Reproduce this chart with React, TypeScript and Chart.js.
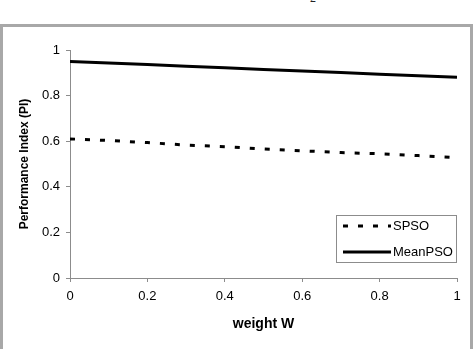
import React, { useEffect, useRef } from "react";
import { Chart, registerables } from "chart.js";

Chart.register(...registerables);

const weights = [0, 0.1, 0.2, 0.3, 0.4, 0.5, 0.6, 0.7, 0.8, 0.9, 1];
const spso = [0.61, 0.603, 0.594, 0.583, 0.576, 0.566, 0.558, 0.55, 0.545, 0.537, 0.528];
const meanPso = [0.95, 0.943, 0.936, 0.929, 0.922, 0.915, 0.908, 0.901, 0.894, 0.887, 0.88];
const seriesNames = ["SPSO", "MeanPSO"];
const xTickLabels = ["0", "0.2", "0.4", "0.6", "0.8", "1"];
const yTickLabels = ["0", "0.2", "0.4", "0.6", "0.8", "1"];
const xTitle = "weight W";
const yTitle = "Performance Index (PI)";

const FONT = "'Liberation Sans', Arial, Helvetica, sans-serif";

const legendPlugin = {
  id: "boxLegend",
  afterDraw(chart: any) {
    const { ctx, chartArea } = chart;
    const right = chartArea.right;
    const left = right - 121;
    const top = chartArea.top + 165;
    const h = 48;
    ctx.save();
    ctx.fillStyle = "#ffffff";
    ctx.fillRect(left, top, right - left, h);
    ctx.strokeStyle = "#8c8c8c";
    ctx.lineWidth = 1;
    ctx.strokeRect(left + 0.5, top + 0.5, right - left - 1, h - 1);
    const rows = [top + 11, top + 37];
    chart.data.datasets.forEach((ds: any, i: number) => {
      const y = rows[i];
      ctx.beginPath();
      ctx.strokeStyle = ds.borderColor;
      ctx.lineWidth = ds.borderWidth;
      ctx.setLineDash(ds.borderDash || []);
      ctx.moveTo(left + 7, y);
      ctx.lineTo(left + 55, y);
      ctx.stroke();
      ctx.setLineDash([]);
      ctx.fillStyle = "#000";
      ctx.font = `13px ${FONT}`;
      ctx.textBaseline = "middle";
      ctx.textAlign = "left";
      ctx.fillText(ds.label, left + 57, y);
    });
    ctx.restore();
  },
};

export default function App() {
  const ref = useRef<HTMLCanvasElement | null>(null);
  useEffect(() => {
    if (!ref.current) return;
    const chart = new Chart(ref.current, {
      type: "line",
      data: {
        datasets: [
          {
            label: seriesNames[0],
            data: weights.map((w, i) => ({ x: w, y: spso[i] })),
            borderColor: "#000",
            borderWidth: 3,
            borderDash: [5, 10],
            pointRadius: 0,
            tension: 0,
          },
          {
            label: seriesNames[1],
            data: weights.map((w, i) => ({ x: w, y: meanPso[i] })),
            borderColor: "#000",
            borderWidth: 3,
            pointRadius: 0,
            tension: 0,
          },
        ],
      },
      options: {
        animation: false,
        responsive: false,
        devicePixelRatio: 1,
        layout: { padding: { left: 0, top: 50, right: 17, bottom: 0 } },
        plugins: {
          legend: { display: false },
          tooltip: { enabled: false },
        },
        scales: {
          x: {
            type: "linear",
            min: 0,
            max: 1,
            afterFit: (s: any) => {
              s.height = 71;
            },
            ticks: {
              stepSize: 0.2,
              color: "#000",
              padding: 7,
              maxRotation: 0,
              font: { family: FONT, size: 13 },
              callback: (_v: any, i: number) => xTickLabels[i],
            },
            grid: {
              display: true,
              drawOnChartArea: false,
              drawTicks: true,
              tickLength: 4,
              color: "#8c8c8c",
              tickColor: "#8c8c8c",
            },
            border: { display: true, color: "#8c8c8c", width: 1 },
            title: {
              display: true,
              text: xTitle,
              color: "#000",
              font: { family: FONT, size: 14, weight: "bold" },
              padding: { top: 0, bottom: 16 },
            },
          },
          y: {
            type: "linear",
            min: 0,
            max: 1,
            afterFit: (s: any) => {
              s.width = 70;
            },
            ticks: {
              stepSize: 0.2,
              color: "#000",
              padding: 6,
              font: { family: FONT, size: 13 },
              callback: (_v: any, i: number) => yTickLabels[i],
            },
            grid: {
              display: true,
              drawOnChartArea: false,
              drawTicks: true,
              tickLength: 4,
              color: "#8c8c8c",
              tickColor: "#8c8c8c",
            },
            border: { display: true, color: "#8c8c8c", width: 1 },
            title: {
              display: true,
              text: yTitle,
              color: "#000",
              font: { family: FONT, size: 12, weight: "bold" },
              padding: { top: 17, bottom: 0 },
            },
          },
        },
      },
      plugins: [legendPlugin],
    } as any);
    return () => chart.destroy();
  }, []);

  return (
    <div
      style={{
        position: "fixed",
        left: 0,
        top: 0,
        width: 474,
        height: 349,
        overflow: "hidden",
        background: "#fff",
      }}
    >
      <span
        style={{
          position: "absolute",
          left: 310,
          top: -9,
          fontFamily: "'Liberation Serif', serif",
          fontSize: 12,
          color: "#222",
        }}
      >
        2
      </span>
      <div
        style={{
          position: "absolute",
          left: 0,
          top: 24,
          width: 473,
          height: 340,
          boxSizing: "border-box",
          border: "3px solid #a8a8a8",
        }}
      />
      <canvas
        ref={ref}
        width={474}
        height={349}
        style={{ position: "absolute", left: 0, top: 0, width: 474, height: 349 }}
      />
    </div>
  );
}
